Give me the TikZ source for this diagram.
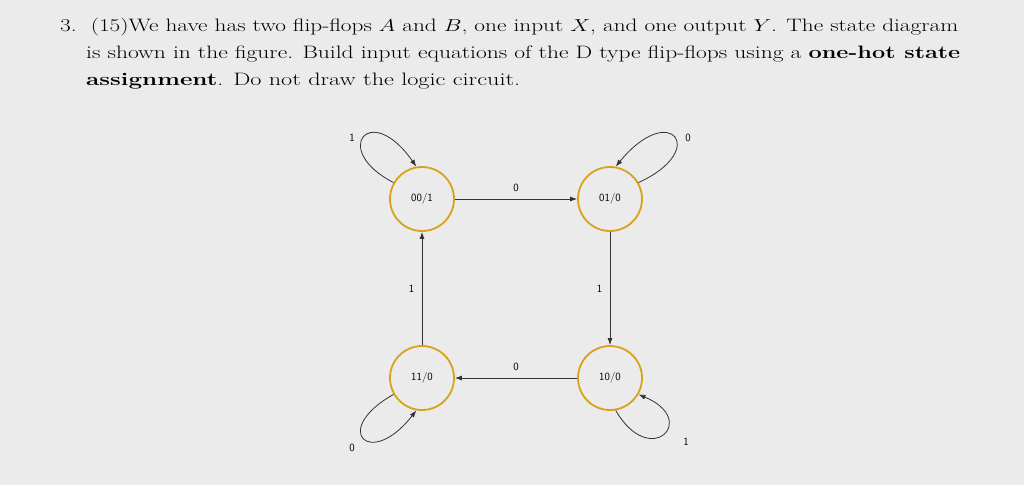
\documentclass[tikz,border=0pt]{standalone}
\usepackage{graphicx}
\usetikzlibrary{arrows.meta}
\definecolor{gold}{HTML}{D9A21C}
\begin{document}
\begin{tikzpicture}[x=1pt,y=-1pt,
 st/.style={circle,draw=gold,line width=1.8pt,minimum size=64pt,inner sep=0pt,font=\fontsize{11}{12}\sffamily},
 ed/.style={draw=black!80,line width=0.8pt,-{Latex[length=7pt,width=5pt]}},
 lb/.style={font=\fontsize{11}{12}\sffamily},
 tx/.style={anchor=west,inner sep=0pt,font=\fontsize{18}{20}\selectfont}]
\fill[black!8] (0,0) rectangle (1024,485);
\useasboundingbox (0,0) rectangle (1024,485);
\node[tx] (l1) at (60,27) {\resizebox{898pt}{\height}{3.\ \ (15)We have has two flip-flops $A$ and $B$, one input $X$, and one output $Y$. The state diagram}};
\node[tx] (l2) at (86,54) {\resizebox{874pt}{\height}{is shown in the figure. Build input equations of the D type flip-flops using a \textbf{one-hot state}}};
\node[tx] (l3) at (86,81) {\resizebox{434pt}{\height}{\textbf{assignment}. Do not draw the logic circuit.}};
\node[st] (a) at (422,199) {00/1};
\node[st] (b) at (610,199) {01/0};
\node[st] (c) at (422,378) {11/0};
\node[st] (d) at (610,378) {10/0};
\draw[ed] (a) -- node[lb,above=4pt]{0} (b);
\draw[ed] (b) -- node[lb,left=4pt]{1} (d);
\draw[ed] (d) -- node[lb,above=4pt]{0} (c);
\draw[ed] (c) -- node[lb,left=4pt]{1} (a);
\draw[ed] (a.150) .. controls (330,150) and (370,100) .. (a.100);
\draw[ed] (b.30) .. controls (710,150) and (670,100) .. (b.80);
\draw[ed] (c.210) .. controls (330,430) and (370,470) .. (c.260);
\draw[ed] (d.280) .. controls (650,470) and (700,420) .. (d.330);
\node[lb] (la) at (352,138) {1};
\node[lb] (lb2) at (688,138) {0};
\node[lb] (lc) at (352,448) {0};
\node[lb] (ld) at (686,442) {1};
\end{tikzpicture}
\end{document}
